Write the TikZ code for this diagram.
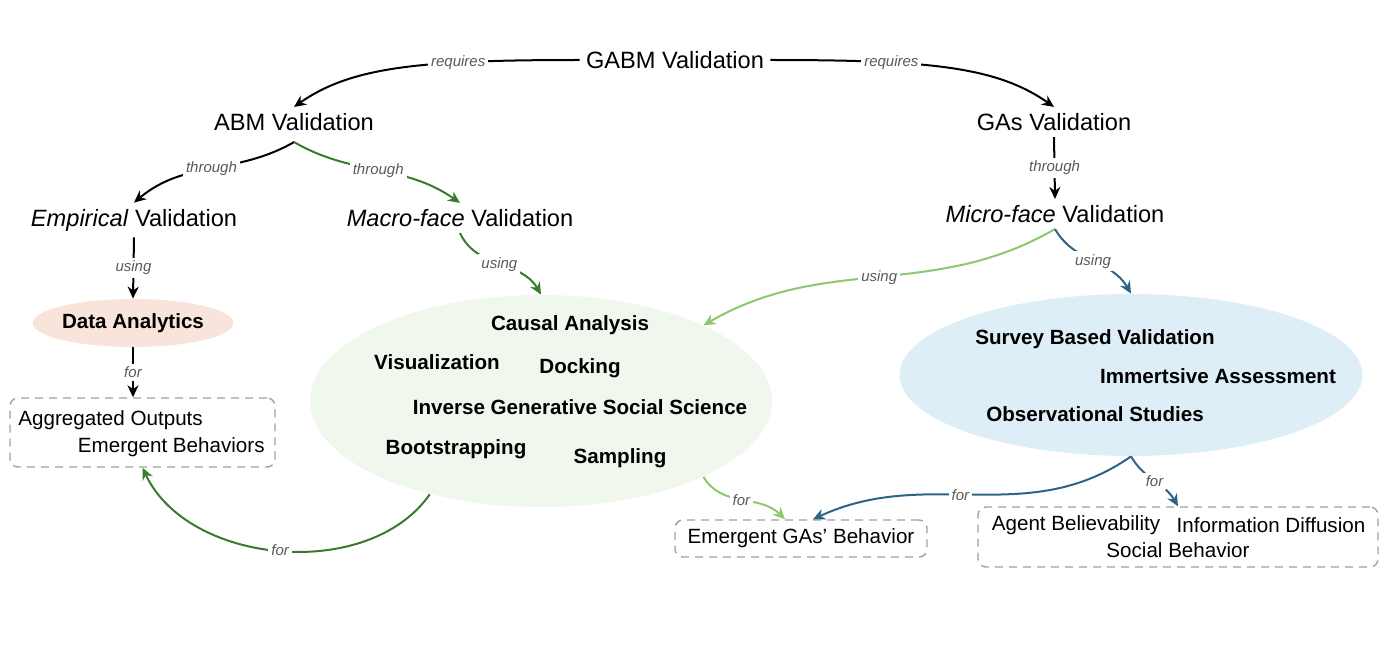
\documentclass[tikz,border=0pt]{standalone}
\usepackage{fontspec}
\setmainfont{Liberation Sans}
\usetikzlibrary{shapes.geometric,arrows.meta}
\definecolor{dgreen}{RGB}{58,122,46}
\definecolor{lgreen}{RGB}{140,200,112}
\definecolor{dblue}{RGB}{44,100,135}
\definecolor{peach}{RGB}{248,228,218}
\definecolor{gfill}{RGB}{240,247,236}
\definecolor{bfill}{RGB}{222,238,246}
\definecolor{labgray}{RGB}{90,90,90}
\definecolor{boxgray}{RGB}{160,160,160}
\newcommand\mainfs{\fontsize{11.8pt}{14pt}\selectfont}
\newcommand\bldfs{\fontsize{10.3pt}{12pt}\selectfont\bfseries}
\newcommand\boxfs{\fontsize{10.3pt}{12pt}\selectfont}
\newcommand\labfs{\fontsize{7.5pt}{9pt}\selectfont\itshape}
\begin{document}
\begin{tikzpicture}[x=0.5pt,y=-0.5pt,
  title/.style={font=\mainfs, inner sep=3pt},
  bld/.style={font=\bldfs, inner sep=0pt},
  boxtext/.style={font=\boxfs, inner sep=0pt},
  lab/.style={font=\labfs, text=labgray, fill=white, inner sep=1.5pt},
  conn/.style={line width=1pt, -{Stealth[length=6pt,width=5.5pt]}},
  dbox/.style={draw=boxgray, dash pattern=on 4pt off 3pt, rounded corners=4pt, line width=0.7pt},
  oval/.style={ellipse, inner sep=0pt}
]
\useasboundingbox (0,0) rectangle (1400,668);

% background shapes
\node[oval, fill=gfill, minimum width=231pt, minimum height=106pt] (green) at (541,401) {};
\node[oval, fill=bfill, minimum width=231.5pt, minimum height=81pt] (blue) at (1131,375) {};
\node[oval, fill=peach, minimum width=96.5pt, minimum height=24pt, font=\bldfs] (data) at (133,323) {Data Analytics};

% boxes
\node[dbox, minimum width=132.5pt, minimum height=34.5pt] (agg) at (142.5,432.5) {};
\node[dbox, minimum width=126pt, minimum height=18.5pt, font=\boxfs] (emg) at (801,538.5) {Emergent GAs’ Behavior};
\node[dbox, minimum width=200pt, minimum height=30pt] (rbox) at (1178,537) {};

% titles
\node[title] (gabm) at (675,60) {GABM Validation};
\node[title] (abm) at (294,122) {ABM Validation};
\node[title] (gas) at (1054,122) {GAs Validation};
\node[title] (emp) at (134,220) {\textit{Empirical} Validation};
\node[title] (macro) at (460,218) {\textit{Macro-face} Validation};
\node[title] (micro) at (1055,214) {\textit{Micro-face} Validation};

% texts in green ellipse
\node[bld] (ca) at (570,325) {Causal Analysis};
\node[bld] (vis) at (437,362) {Visualization};
\node[bld] (dock) at (580,368) {Docking};
\node[bld] (igss) at (580,407) {Inverse Generative Social Science};
\node[bld] (boot) at (456,449) {Bootstrapping};
\node[bld] (samp) at (620,458) {Sampling};

% texts in blue ellipse
\node[bld] (sbv) at (1095,339) {Survey Based Validation};
\node[bld] (ia) at (1218,376) {Immertsive Assessment};
\node[bld] (obs) at (1095,414) {Observational Studies};

% box texts
\node[boxtext, anchor=west] (aggA) at (18,420) {Aggregated Outputs};
\node[boxtext, anchor=east] (aggB) at (265,447) {Emergent Behaviors};
\node[boxtext] (ab) at (1076,525) {Agent Believability};
\node[boxtext] (idf) at (1271,525) {Information Diffusion};
\node[boxtext] (sb) at (1178,550) {Social Behavior};

% connectors
\draw[conn] (gabm.west) to[out=180,in=35,out distance=80pt,in distance=35pt] node[lab,pos=0.3]{requires} (abm.north);
\draw[conn] (gabm.east) to[out=0,in=145,out distance=80pt,in distance=35pt] node[lab,pos=0.3]{requires} (gas.north);

\draw[conn] ([yshift=-2.5pt]abm.south) to[out=-150,in=40] node[lab]{through} (emp.north);
\draw[conn, dgreen] ([yshift=-2.5pt]abm.south) to[out=-30,in=145] node[lab]{through} (macro.north);
\draw[conn] (gas.south) -- node[lab]{through} (micro.north);

\draw[conn] (emp.south) -- node[lab]{using} (data.north);
\draw[conn] (data.south) -- node[lab]{for} (data.south |- agg.north);

\draw[conn, dgreen] (macro.south) to[out=-65,in=120] node[lab]{using} (green.north);
\draw[conn, lgreen] (micro.south) to[out=-150,in=30] node[lab]{using} (green.25);
\draw[conn, dblue] (micro.south) to[out=-60,in=120] node[lab]{using} (blue.north);

\draw[conn, lgreen] (green.-25) to[out=-60,in=135] node[lab]{for} ([xshift=-8pt]emg.north);
\draw[conn, dblue] (blue.south) to[out=-145,in=25] node[lab,pos=0.55]{for} ([xshift=6pt]emg.north);
\draw[conn, dblue] (blue.south) to[out=-60,in=120] node[lab]{for} (rbox.north);
\draw[conn, dgreen] (green.220) to[out=-125,in=-65,looseness=0.95] node[lab]{for} (agg.south);
\end{tikzpicture}
\end{document}
